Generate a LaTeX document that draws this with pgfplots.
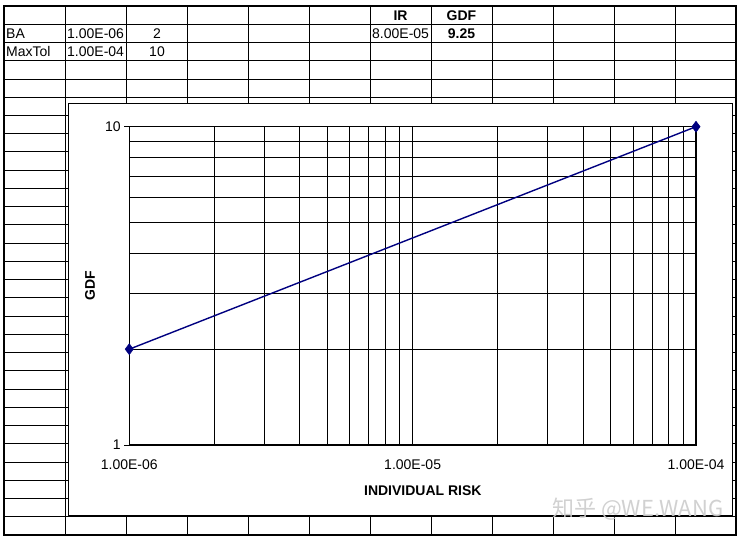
\documentclass[border=0pt]{standalone}
\usepackage{pgfplots}
\pgfplotsset{compat=1.18}
\usepackage{fontspec}
\setmainfont{Liberation Sans}
\newfontfamily\cjk{Noto Sans CJK SC}
\definecolor{navyline}{RGB}{0,0,128}
\newcommand{\cellfont}{\fontsize{14bp}{16bp}\selectfont}
\begin{document}
\begin{tikzpicture}
\begin{scope}[x=1bp,y=-1bp]
\useasboundingbox (0,0) rectangle (742,540);
\fill[white] (0,0) rectangle (742,540);
% spreadsheet grid
\foreach \k in {1,...,28} \draw[line width=0.9bp] (4,{6+18.241*\k}) -- (736,{6+18.241*\k});
\foreach \k in {1,...,11} \draw[line width=0.9bp] ({4+61*\k},6) -- ({4+61*\k},535);
\draw[line width=2bp] (4,6) rectangle (736,535);
% cell texts
\node[anchor=base west,inner sep=0pt,font=\cellfont] at (6,38.4) {BA};
\node[anchor=base west,inner sep=0pt,font=\cellfont] at (67,38.4) {1.00E-06};
\node[anchor=base,inner sep=0pt,font=\cellfont] at (157,38.4) {2};
\node[anchor=base west,inner sep=0pt,font=\cellfont] at (6,56.6) {MaxTol};
\node[anchor=base west,inner sep=0pt,font=\cellfont] at (67,56.6) {1.00E-04};
\node[anchor=base,inner sep=0pt,font=\cellfont] at (157,56.6) {10};
\node[anchor=base,inner sep=0pt,font=\cellfont\bfseries] at (400.5,20.1) {IR};
\node[anchor=base,inner sep=0pt,font=\cellfont\bfseries] at (461.5,20.1) {GDF};
\node[anchor=base west,inner sep=0pt,font=\cellfont] at (372,38.4) {8.00E-05};
\node[anchor=base,inner sep=0pt,font=\cellfont\bfseries] at (461.5,38.4) {9.25};
% chart area
\draw[fill=white,line width=0.8bp] (68,103) rectangle (732,515);
\end{scope}
\begin{axis}[
  at={(129.3bp,-445bp)}, anchor=south west,
  scale only axis, width=566.7bp, height=318.3bp,
  xmode=log, ymode=log,
  xmin=1e-6, xmax=1e-4, ymin=1, ymax=10,
  xtick={1e-6,1e-5,1e-4},
  xticklabels={1.00E-06,1.00E-05,1.00E-04},
  ytick={1,10}, yticklabels={1,10},
  minor xtick={2e-6,3e-6,4e-6,5e-6,6e-6,7e-6,8e-6,9e-6,2e-5,3e-5,4e-5,5e-5,6e-5,7e-5,8e-5,9e-5},
  minor ytick={2,3,4,5,6,7,8,9},
  grid=both,
  major grid style={black,line width=0.9bp},
  minor grid style={black,line width=0.9bp},
  axis line style={black,line width=1.1bp},
  tick align=outside, ytick pos=left, xtick pos=bottom,
  major tick length=5bp, minor tick length=0pt,
  xtick style={draw=none},
  ytick style={black,line width=0.8bp},
  /pgf/number format/assume math mode=true,
  tick label style={font=\cellfont},
  xticklabel style={yshift=-6bp},
  xlabel={INDIVIDUAL RISK}, ylabel={GDF},
  label style={font=\cellfont\bfseries},
  xlabel style={at={(axis description cs:0.518,-0.1445)},anchor=center},
  ylabel style={at={(axis description cs:-0.069,0.5)},anchor=center},
  clip=false,
]
\addplot[color=navyline,line width=1.4bp,mark=diamond*,mark size=5.5bp,mark options={fill=navyline,line width=0.5bp}] coordinates {(1e-6,2) (1e-4,10)};
\end{axis}
\begin{scope}[x=1bp,y=-1bp]
\node[anchor=base west,inner sep=0pt,text=gray!40,opacity=0.9,font=\cjk\fontsize{22bp}{24bp}\selectfont] at (552,516) {知乎 @WE.WANG};
\end{scope}
\end{tikzpicture}
\end{document}
